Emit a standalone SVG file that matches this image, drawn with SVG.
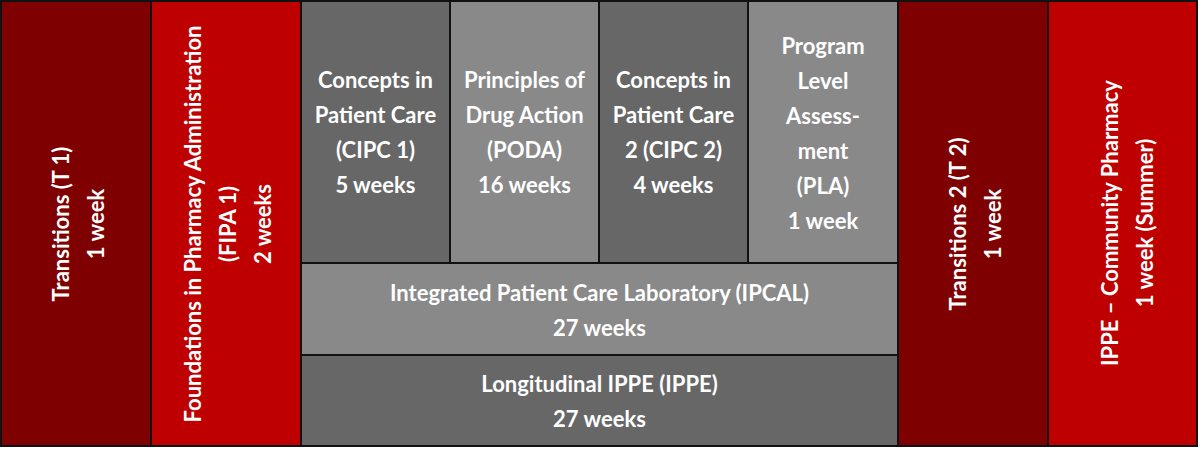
<svg xmlns="http://www.w3.org/2000/svg" width="1200" height="449" viewBox="0 0 1200 449">
<style>
.cell{stroke:#111;stroke-width:2}
.dr{fill:#7F0000}
.rd{fill:#BE0000}
.dg{fill:#676767}
.lg{fill:#898989}
text{font-family:Lato,"Open Sans","Liberation Sans",sans-serif;font-weight:bold;font-size:22px;fill:#fff;text-anchor:middle}
</style>
<rect x="0" y="0" width="1200" height="449" fill="#fff"/>
<g id="t1">
<rect class="cell dr" x="1" y="1" width="150" height="445"/>
<text transform="translate(76,224) rotate(-90)"><tspan x="0" y="-7">Transitions (T 1)</tspan><tspan x="0" y="28">1 week</tspan></text>
</g>
<g id="fipa1">
<rect class="cell rd" x="151" y="1" width="150" height="445"/>
<text transform="translate(226,224) rotate(-90)"><tspan x="0" y="-25">Foundations in Pharmacy Administration</tspan><tspan x="0" y="10">(FIPA 1)</tspan><tspan x="0" y="45">2 weeks</tspan></text>
</g>
<g id="cipc1">
<rect class="cell dg" x="301" y="1" width="149" height="262"/>
<text><tspan x="375.5" y="88">Concepts in</tspan><tspan x="375.5" y="123">Patient Care</tspan><tspan x="375.5" y="158">(CIPC 1)</tspan><tspan x="375.5" y="193">5 weeks</tspan></text>
</g>
<g id="poda">
<rect class="cell lg" x="450" y="1" width="149" height="262"/>
<text><tspan x="524.5" y="88">Principles of</tspan><tspan x="524.5" y="123">Drug Action</tspan><tspan x="524.5" y="158">(PODA)</tspan><tspan x="524.5" y="193">16 weeks</tspan></text>
</g>
<g id="cipc2">
<rect class="cell dg" x="599" y="1" width="149" height="262"/>
<text><tspan x="673.5" y="88">Concepts in</tspan><tspan x="673.5" y="123">Patient Care</tspan><tspan x="673.5" y="158">2 (CIPC 2)</tspan><tspan x="673.5" y="193">4 weeks</tspan></text>
</g>
<g id="pla">
<rect class="cell lg" x="748" y="1" width="150" height="262"/>
<text><tspan x="823" y="54">Program</tspan><tspan x="823" y="89">Level</tspan><tspan x="823" y="124">Assess-</tspan><tspan x="823" y="159">ment</tspan><tspan x="823" y="194">(PLA)</tspan><tspan x="823" y="229">1 week</tspan></text>
</g>
<g id="ipcal">
<rect class="cell lg" x="301" y="263" width="597" height="92"/>
<text><tspan x="599.5" y="301">Integrated Patient Care Laboratory (IPCAL)</tspan><tspan x="599.5" y="336">27 weeks</tspan></text>
</g>
<g id="ippe">
<rect class="cell dg" x="301" y="355" width="597" height="91"/>
<text><tspan x="599.5" y="392">Longitudinal IPPE (IPPE)</tspan><tspan x="599.5" y="427">27 weeks</tspan></text>
</g>
<g id="t2">
<rect class="cell dr" x="898" y="1" width="150" height="445"/>
<text transform="translate(973,224) rotate(-90)"><tspan x="0" y="-7">Transitions 2 (T 2)</tspan><tspan x="0" y="28">1 week</tspan></text>
</g>
<g id="ippe-cp">
<rect class="cell rd" x="1048" y="1" width="149" height="445"/>
<text transform="translate(1122.5,223) rotate(-90)"><tspan x="0" y="-5">IPPE – Community Pharmacy</tspan><tspan x="0" y="30">1 week (Summer)</tspan></text>
</g>
<g id="connectors"/>
</svg>
